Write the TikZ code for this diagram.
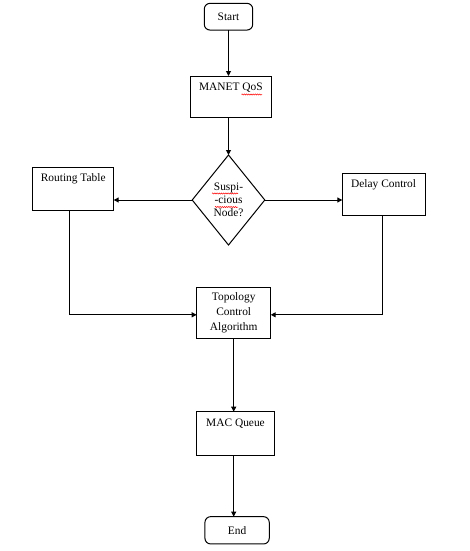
\documentclass[tikz,border=0pt]{standalone}
\usepackage{fontspec}
\setmainfont{Liberation Serif}
\usetikzlibrary{arrows.meta,shapes.geometric,decorations.pathmorphing}
\tikzset{
	flow/.style={-{Triangle[length=5pt,width=5pt]}, line width=1pt},
	term/.style={draw, rounded corners=2mm, outer sep=0, line width=1pt},
	proc/.style={draw, anchor=north west, inner sep=0, outer sep=0, line width=1pt, text height=14.5pt},
	choice/.style={draw, diamond, aspect=0.8, inner sep=0, outer sep=0, line width=1pt, align=center},
	spell/.style={draw=red, line width=0.5pt, decorate, decoration={snake, amplitude=0.6pt, segment length=2.2pt}}
}

\begin{document}
\begin{tikzpicture}[x=1pt, y=-1pt, font=\fontsize{11.4}{14.5}\selectfont]
	\useasboundingbox (0,0) rectangle (469,551);
	\node[term, minimum width=48.4pt, minimum height=26.7pt] (start) at (228.5, 16.7) {Start};
	\node[proc, minimum width=81.7pt, text depth=26.8pt] (qos) at (190, 76) {MANET QoS};
	\node[choice, minimum width=72.6pt, minimum height=90pt, font=\fontsize{11.4}{13.3}\selectfont] (susp) at (228.5, 200) {Suspi-\\-cious\\Node?};
	\node[proc, minimum width=81pt, text depth=28.9pt] (route) at (32.7, 167.3) {Routing Table};
	\node[proc, minimum width=82.7pt, text depth=27.5pt] (delay) at (342.3, 173.3) {Delay Control};
	\node[draw, inner sep=0, outer sep=0, line width=1pt, minimum width=74pt, minimum height=51pt, align=center, font=\fontsize{11.4}{15}\selectfont] (topo) at (233.7, 312.8) {Topology\\Control\\Algorithm};
	\node[proc, minimum width=77.6pt, text depth=28.8pt] (mac) at (196.7, 411.7) {MAC Queue};
	\node[term, minimum width=64.3pt, minimum height=27.3pt] (stop) at (237.1, 530.3) {End};

	\draw[flow] (start.south) -- (start.south |- qos.north);
	\draw[flow] (start.south |- qos.south) -- (susp.north);
	\draw[flow] (susp.west) -- (susp.west -| route.east);
	\draw[flow] (susp.east) -- (susp.east -| delay.west);
	\draw[flow] ([xshift=-4.2pt]route.south) |- ([yshift=-2pt]topo.west);
	\draw[flow] ([xshift=-1pt]delay.south) |- ([yshift=-2pt]topo.east);
	\draw[flow] (topo.south) -- (topo.south |- mac.north);
	\draw[flow] (topo.south |- mac.south) -- (topo.south |- stop.north);

	% spell check marks
	\draw[spell] (241.5, 94.5) -- (262, 94.5);
	\draw[spell] (212, 193.5) -- (238, 193.5);
	\draw[spell] (215, 207) -- (238, 207);
\end{tikzpicture}
\end{document}
